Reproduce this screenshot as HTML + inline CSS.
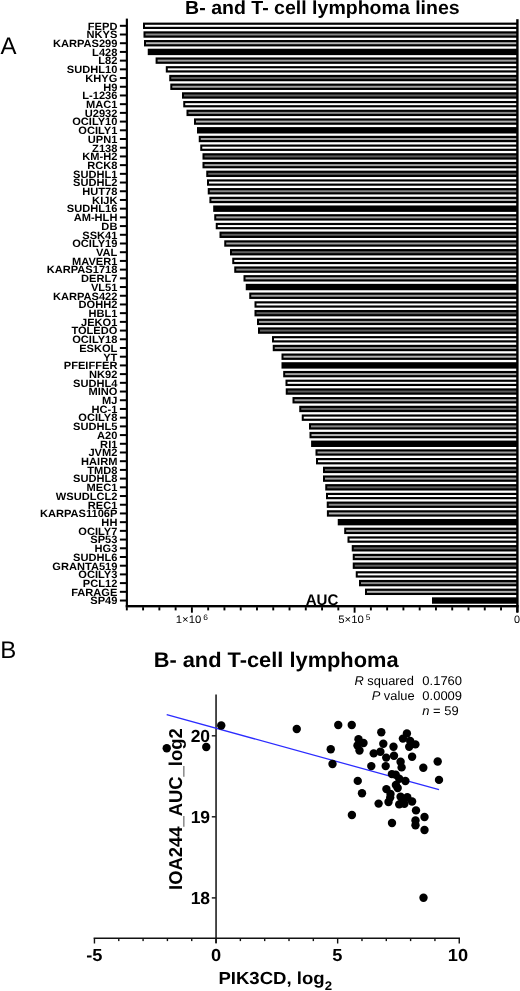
<!DOCTYPE html>
<html><head><meta charset="utf-8"><title>B- and T- cell lymphoma lines</title>
<style>
html,body{margin:0;padding:0;background:#fff}
body{width:520px;height:991px;overflow:hidden}
svg{display:block}
text{font-family:"Liberation Sans",Arial,Helvetica,sans-serif;fill:#000;text-rendering:geometricPrecision}
.b{font-weight:bold}
.lab{font-weight:bold;font-size:10.6px;text-anchor:end}
.i{font-style:italic}
</style></head><body>
<svg width="520" height="991" viewBox="0 0 520 991">
<rect x="0" y="0" width="520" height="991" fill="#fff"/>

<text x="0.6" y="54.4" font-size="24">A</text>
<text class="b" transform="translate(322.4,13.5) scale(1.034,1)" font-size="18.9" text-anchor="middle">B- and T- cell lymphoma lines</text>
<rect x="125.8" y="18.6" width="2.15" height="588.7" fill="#000"/>
<rect x="516.2" y="19.2" width="2.4" height="593.2" fill="#000"/>
<rect x="125.7" y="605" width="392.9" height="2.4" fill="#000"/>
<rect x="119.9" y="24.80" width="6.2" height="2.0" fill="#000"/>
<rect x="143" y="22.60" width="374.00" height="6.4" fill="#000"/>
<rect x="145" y="24.80" width="371.20" height="2" fill="rgb(255,255,255)"/>
<text class="lab" transform="translate(117.4,29.60) scale(1.047,1)">FEPD</text>
<rect x="119.9" y="33.51" width="6.2" height="2.0" fill="#000"/>
<rect x="143.5" y="31.31" width="373.50" height="6.4" fill="#000"/>
<rect x="145.5" y="33.51" width="370.70" height="2" fill="rgb(135,135,135)"/>
<text class="lab" transform="translate(117.4,38.31) scale(1.047,1)">NKYS</text>
<rect x="119.9" y="42.22" width="6.2" height="2.0" fill="#000"/>
<rect x="144" y="40.02" width="373.00" height="6.4" fill="#000"/>
<rect x="146" y="42.22" width="370.20" height="2" fill="rgb(180,180,180)"/>
<text class="lab" transform="translate(117.4,47.02) scale(1.047,1)">KARPAS299</text>
<rect x="119.9" y="50.92" width="6.2" height="2.0" fill="#000"/>
<rect x="147.75" y="48.72" width="369.25" height="6.4" fill="#000"/>
<text class="lab" transform="translate(117.4,55.72) scale(1.047,1)">L428</text>
<rect x="119.9" y="59.63" width="6.2" height="2.0" fill="#000"/>
<rect x="155.6" y="57.43" width="361.40" height="6.4" fill="#000"/>
<rect x="157.6" y="59.63" width="358.60" height="2" fill="rgb(160,160,160)"/>
<text class="lab" transform="translate(117.4,64.43) scale(1.047,1)">L82</text>
<rect x="119.9" y="68.34" width="6.2" height="2.0" fill="#000"/>
<rect x="165.8" y="66.14" width="351.20" height="6.4" fill="#000"/>
<rect x="167.8" y="68.34" width="348.40" height="2" fill="rgb(255,255,255)"/>
<text class="lab" transform="translate(117.4,73.14) scale(1.047,1)">SUDHL10</text>
<rect x="119.9" y="77.05" width="6.2" height="2.0" fill="#000"/>
<rect x="169.25" y="74.85" width="347.75" height="6.4" fill="#000"/>
<rect x="171.25" y="77.05" width="344.95" height="2" fill="rgb(92,92,92)"/>
<text class="lab" transform="translate(117.4,81.85) scale(1.047,1)">KHYG</text>
<rect x="119.9" y="85.76" width="6.2" height="2.0" fill="#000"/>
<rect x="170.3" y="83.56" width="346.70" height="6.4" fill="#000"/>
<rect x="172.3" y="85.76" width="343.90" height="2" fill="rgb(160,160,160)"/>
<text class="lab" transform="translate(117.4,90.56) scale(1.047,1)">H9</text>
<rect x="119.9" y="94.46" width="6.2" height="2.0" fill="#000"/>
<rect x="182" y="92.26" width="335.00" height="6.4" fill="#000"/>
<rect x="184" y="94.46" width="332.20" height="2" fill="rgb(95,95,95)"/>
<text class="lab" transform="translate(117.4,99.26) scale(1.047,1)">L-1236</text>
<rect x="119.9" y="103.17" width="6.2" height="2.0" fill="#000"/>
<rect x="183.25" y="100.97" width="333.75" height="6.4" fill="#000"/>
<rect x="185.25" y="103.17" width="330.95" height="2" fill="rgb(255,255,255)"/>
<text class="lab" transform="translate(117.4,107.97) scale(1.047,1)">MAC1</text>
<rect x="119.9" y="111.88" width="6.2" height="2.0" fill="#000"/>
<rect x="186.5" y="109.68" width="330.50" height="6.4" fill="#000"/>
<rect x="188.5" y="111.88" width="327.70" height="2" fill="rgb(135,135,135)"/>
<text class="lab" transform="translate(117.4,116.68) scale(1.047,1)">U2932</text>
<rect x="119.9" y="120.59" width="6.2" height="2.0" fill="#000"/>
<rect x="194" y="118.39" width="323.00" height="6.4" fill="#000"/>
<rect x="196" y="120.59" width="320.20" height="2" fill="rgb(180,180,180)"/>
<text class="lab" transform="translate(117.4,125.39) scale(1.047,1)">OCILY10</text>
<rect x="119.9" y="129.30" width="6.2" height="2.0" fill="#000"/>
<rect x="197" y="127.10" width="320.00" height="6.4" fill="#000"/>
<text class="lab" transform="translate(117.4,134.10) scale(1.047,1)">OCILY1</text>
<rect x="119.9" y="138.00" width="6.2" height="2.0" fill="#000"/>
<rect x="198.75" y="135.80" width="318.25" height="6.4" fill="#000"/>
<rect x="200.75" y="138.00" width="315.45" height="2" fill="rgb(160,160,160)"/>
<text class="lab" transform="translate(117.4,142.80) scale(1.047,1)">UPN1</text>
<rect x="119.9" y="146.71" width="6.2" height="2.0" fill="#000"/>
<rect x="200.25" y="144.51" width="316.75" height="6.4" fill="#000"/>
<rect x="202.25" y="146.71" width="313.95" height="2" fill="rgb(255,255,255)"/>
<text class="lab" transform="translate(117.4,151.51) scale(1.047,1)">Z138</text>
<rect x="119.9" y="155.42" width="6.2" height="2.0" fill="#000"/>
<rect x="202.5" y="153.22" width="314.50" height="6.4" fill="#000"/>
<rect x="204.5" y="155.42" width="311.70" height="2" fill="rgb(92,92,92)"/>
<text class="lab" transform="translate(117.4,160.22) scale(1.047,1)">KM-H2</text>
<rect x="119.9" y="164.13" width="6.2" height="2.0" fill="#000"/>
<rect x="202.5" y="161.93" width="314.50" height="6.4" fill="#000"/>
<rect x="204.5" y="164.13" width="311.70" height="2" fill="rgb(160,160,160)"/>
<text class="lab" transform="translate(117.4,168.93) scale(1.047,1)">RCK8</text>
<rect x="119.9" y="172.84" width="6.2" height="2.0" fill="#000"/>
<rect x="206.25" y="170.64" width="310.75" height="6.4" fill="#000"/>
<rect x="208.25" y="172.84" width="307.95" height="2" fill="rgb(95,95,95)"/>
<text class="lab" transform="translate(117.4,177.64) scale(1.047,1)">SUDHL1</text>
<rect x="119.9" y="181.54" width="6.2" height="2.0" fill="#000"/>
<rect x="207" y="179.34" width="310.00" height="6.4" fill="#000"/>
<rect x="209" y="181.54" width="307.20" height="2" fill="rgb(255,255,255)"/>
<text class="lab" transform="translate(117.4,186.34) scale(1.047,1)">SUDHL2</text>
<rect x="119.9" y="190.25" width="6.2" height="2.0" fill="#000"/>
<rect x="207.75" y="188.05" width="309.25" height="6.4" fill="#000"/>
<rect x="209.75" y="190.25" width="306.45" height="2" fill="rgb(135,135,135)"/>
<text class="lab" transform="translate(117.4,195.05) scale(1.047,1)">HUT78</text>
<rect x="119.9" y="198.96" width="6.2" height="2.0" fill="#000"/>
<rect x="209.4" y="196.76" width="307.60" height="6.4" fill="#000"/>
<rect x="211.4" y="198.96" width="304.80" height="2" fill="rgb(180,180,180)"/>
<text class="lab" transform="translate(117.4,203.76) scale(1.047,1)">KIJK</text>
<rect x="119.9" y="207.67" width="6.2" height="2.0" fill="#000"/>
<rect x="213.2" y="205.47" width="303.80" height="6.4" fill="#000"/>
<text class="lab" transform="translate(117.4,212.47) scale(1.047,1)">SUDHL16</text>
<rect x="119.9" y="216.38" width="6.2" height="2.0" fill="#000"/>
<rect x="214.25" y="214.18" width="302.75" height="6.4" fill="#000"/>
<rect x="216.25" y="216.38" width="299.95" height="2" fill="rgb(160,160,160)"/>
<text class="lab" transform="translate(117.4,221.18) scale(1.047,1)">AM-HLH</text>
<rect x="119.9" y="225.08" width="6.2" height="2.0" fill="#000"/>
<rect x="215.75" y="222.88" width="301.25" height="6.4" fill="#000"/>
<rect x="217.75" y="225.08" width="298.45" height="2" fill="rgb(255,255,255)"/>
<text class="lab" transform="translate(117.4,229.88) scale(1.047,1)">DB</text>
<rect x="119.9" y="233.79" width="6.2" height="2.0" fill="#000"/>
<rect x="219.5" y="231.59" width="297.50" height="6.4" fill="#000"/>
<rect x="221.5" y="233.79" width="294.70" height="2" fill="rgb(92,92,92)"/>
<text class="lab" transform="translate(117.4,238.59) scale(1.047,1)">SSK41</text>
<rect x="119.9" y="242.50" width="6.2" height="2.0" fill="#000"/>
<rect x="224.25" y="240.30" width="292.75" height="6.4" fill="#000"/>
<rect x="226.25" y="242.50" width="289.95" height="2" fill="rgb(160,160,160)"/>
<text class="lab" transform="translate(117.4,247.30) scale(1.047,1)">OCILY19</text>
<rect x="119.9" y="251.21" width="6.2" height="2.0" fill="#000"/>
<rect x="230" y="249.01" width="287.00" height="6.4" fill="#000"/>
<rect x="232" y="251.21" width="284.20" height="2" fill="rgb(95,95,95)"/>
<text class="lab" transform="translate(117.4,256.01) scale(1.047,1)">VAL</text>
<rect x="119.9" y="259.92" width="6.2" height="2.0" fill="#000"/>
<rect x="232.25" y="257.72" width="284.75" height="6.4" fill="#000"/>
<rect x="234.25" y="259.92" width="281.95" height="2" fill="rgb(255,255,255)"/>
<text class="lab" transform="translate(117.4,264.72) scale(1.047,1)">MAVER1</text>
<rect x="119.9" y="268.62" width="6.2" height="2.0" fill="#000"/>
<rect x="234.25" y="266.42" width="282.75" height="6.4" fill="#000"/>
<rect x="236.25" y="268.62" width="279.95" height="2" fill="rgb(135,135,135)"/>
<text class="lab" transform="translate(117.4,273.42) scale(1.047,1)">KARPAS1718</text>
<rect x="119.9" y="277.33" width="6.2" height="2.0" fill="#000"/>
<rect x="243.5" y="275.13" width="273.50" height="6.4" fill="#000"/>
<rect x="245.5" y="277.33" width="270.70" height="2" fill="rgb(180,180,180)"/>
<text class="lab" transform="translate(117.4,282.13) scale(1.047,1)">DERL7</text>
<rect x="119.9" y="286.04" width="6.2" height="2.0" fill="#000"/>
<rect x="245.75" y="283.84" width="271.25" height="6.4" fill="#000"/>
<text class="lab" transform="translate(117.4,290.84) scale(1.047,1)">VL51</text>
<rect x="119.9" y="294.75" width="6.2" height="2.0" fill="#000"/>
<rect x="249.25" y="292.55" width="267.75" height="6.4" fill="#000"/>
<rect x="251.25" y="294.75" width="264.95" height="2" fill="rgb(160,160,160)"/>
<text class="lab" transform="translate(117.4,299.55) scale(1.047,1)">KARPAS422</text>
<rect x="119.9" y="303.46" width="6.2" height="2.0" fill="#000"/>
<rect x="254.5" y="301.26" width="262.50" height="6.4" fill="#000"/>
<rect x="256.5" y="303.46" width="259.70" height="2" fill="rgb(255,255,255)"/>
<text class="lab" transform="translate(117.4,308.26) scale(1.047,1)">DOHH2</text>
<rect x="119.9" y="312.16" width="6.2" height="2.0" fill="#000"/>
<rect x="254.5" y="309.96" width="262.50" height="6.4" fill="#000"/>
<rect x="256.5" y="312.16" width="259.70" height="2" fill="rgb(92,92,92)"/>
<text class="lab" transform="translate(117.4,316.96) scale(1.047,1)">HBL1</text>
<rect x="119.9" y="320.87" width="6.2" height="2.0" fill="#000"/>
<rect x="257" y="318.67" width="260.00" height="6.4" fill="#000"/>
<rect x="259" y="320.87" width="257.20" height="2" fill="rgb(160,160,160)"/>
<text class="lab" transform="translate(117.4,325.67) scale(1.047,1)">JEKO1</text>
<rect x="119.9" y="329.58" width="6.2" height="2.0" fill="#000"/>
<rect x="258" y="327.38" width="259.00" height="6.4" fill="#000"/>
<rect x="260" y="329.58" width="256.20" height="2" fill="rgb(95,95,95)"/>
<text class="lab" transform="translate(117.4,334.38) scale(1.047,1)">TOLEDO</text>
<rect x="119.9" y="338.29" width="6.2" height="2.0" fill="#000"/>
<rect x="272" y="336.09" width="245.00" height="6.4" fill="#000"/>
<rect x="274" y="338.29" width="242.20" height="2" fill="rgb(255,255,255)"/>
<text class="lab" transform="translate(117.4,343.09) scale(1.047,1)">OCILY18</text>
<rect x="119.9" y="347.00" width="6.2" height="2.0" fill="#000"/>
<rect x="272.75" y="344.80" width="244.25" height="6.4" fill="#000"/>
<rect x="274.75" y="347.00" width="241.45" height="2" fill="rgb(135,135,135)"/>
<text class="lab" transform="translate(117.4,351.80) scale(1.047,1)">ESKOL</text>
<rect x="119.9" y="355.70" width="6.2" height="2.0" fill="#000"/>
<rect x="281.5" y="353.50" width="235.50" height="6.4" fill="#000"/>
<rect x="283.5" y="355.70" width="232.70" height="2" fill="rgb(180,180,180)"/>
<text class="lab" transform="translate(117.4,360.50) scale(1.047,1)">YT</text>
<rect x="119.9" y="364.41" width="6.2" height="2.0" fill="#000"/>
<rect x="281.5" y="362.21" width="235.50" height="6.4" fill="#000"/>
<text class="lab" transform="translate(117.4,369.21) scale(1.047,1)">PFEIFFER</text>
<rect x="119.9" y="373.12" width="6.2" height="2.0" fill="#000"/>
<rect x="283.2" y="370.92" width="233.80" height="6.4" fill="#000"/>
<rect x="285.2" y="373.12" width="231.00" height="2" fill="rgb(160,160,160)"/>
<text class="lab" transform="translate(117.4,377.92) scale(1.047,1)">NK92</text>
<rect x="119.9" y="381.83" width="6.2" height="2.0" fill="#000"/>
<rect x="285.5" y="379.63" width="231.50" height="6.4" fill="#000"/>
<rect x="287.5" y="381.83" width="228.70" height="2" fill="rgb(255,255,255)"/>
<text class="lab" transform="translate(117.4,386.63) scale(1.047,1)">SUDHL4</text>
<rect x="119.9" y="390.54" width="6.2" height="2.0" fill="#000"/>
<rect x="285.75" y="388.34" width="231.25" height="6.4" fill="#000"/>
<rect x="287.75" y="390.54" width="228.45" height="2" fill="rgb(92,92,92)"/>
<text class="lab" transform="translate(117.4,395.34) scale(1.047,1)">MINO</text>
<rect x="119.9" y="399.24" width="6.2" height="2.0" fill="#000"/>
<rect x="292.5" y="397.04" width="224.50" height="6.4" fill="#000"/>
<rect x="294.5" y="399.24" width="221.70" height="2" fill="rgb(160,160,160)"/>
<text class="lab" transform="translate(117.4,404.04) scale(1.047,1)">MJ</text>
<rect x="119.9" y="407.95" width="6.2" height="2.0" fill="#000"/>
<rect x="299.25" y="405.75" width="217.75" height="6.4" fill="#000"/>
<rect x="301.25" y="407.95" width="214.95" height="2" fill="rgb(95,95,95)"/>
<text class="lab" transform="translate(117.4,412.75) scale(1.047,1)">HC-1</text>
<rect x="119.9" y="416.66" width="6.2" height="2.0" fill="#000"/>
<rect x="301.75" y="414.46" width="215.25" height="6.4" fill="#000"/>
<rect x="303.75" y="416.66" width="212.45" height="2" fill="rgb(255,255,255)"/>
<text class="lab" transform="translate(117.4,421.46) scale(1.047,1)">OCILY8</text>
<rect x="119.9" y="425.37" width="6.2" height="2.0" fill="#000"/>
<rect x="309" y="423.17" width="208.00" height="6.4" fill="#000"/>
<rect x="311" y="425.37" width="205.20" height="2" fill="rgb(135,135,135)"/>
<text class="lab" transform="translate(117.4,430.17) scale(1.047,1)">SUDHL5</text>
<rect x="119.9" y="434.08" width="6.2" height="2.0" fill="#000"/>
<rect x="309.5" y="431.88" width="207.50" height="6.4" fill="#000"/>
<rect x="311.5" y="434.08" width="204.70" height="2" fill="rgb(180,180,180)"/>
<text class="lab" transform="translate(117.4,438.88) scale(1.047,1)">A20</text>
<rect x="119.9" y="442.78" width="6.2" height="2.0" fill="#000"/>
<rect x="311.1" y="440.58" width="205.90" height="6.4" fill="#000"/>
<text class="lab" transform="translate(117.4,447.58) scale(1.047,1)">RI1</text>
<rect x="119.9" y="451.49" width="6.2" height="2.0" fill="#000"/>
<rect x="315.5" y="449.29" width="201.50" height="6.4" fill="#000"/>
<rect x="317.5" y="451.49" width="198.70" height="2" fill="rgb(160,160,160)"/>
<text class="lab" transform="translate(117.4,456.29) scale(1.047,1)">JVM2</text>
<rect x="119.9" y="460.20" width="6.2" height="2.0" fill="#000"/>
<rect x="316" y="458.00" width="201.00" height="6.4" fill="#000"/>
<rect x="318" y="460.20" width="198.20" height="2" fill="rgb(255,255,255)"/>
<text class="lab" transform="translate(117.4,465.00) scale(1.047,1)">HAIRM</text>
<rect x="119.9" y="468.91" width="6.2" height="2.0" fill="#000"/>
<rect x="323" y="466.71" width="194.00" height="6.4" fill="#000"/>
<rect x="325" y="468.91" width="191.20" height="2" fill="rgb(92,92,92)"/>
<text class="lab" transform="translate(117.4,473.71) scale(1.047,1)">TMD8</text>
<rect x="119.9" y="477.62" width="6.2" height="2.0" fill="#000"/>
<rect x="323" y="475.42" width="194.00" height="6.4" fill="#000"/>
<rect x="325" y="477.62" width="191.20" height="2" fill="rgb(160,160,160)"/>
<text class="lab" transform="translate(117.4,482.42) scale(1.047,1)">SUDHL8</text>
<rect x="119.9" y="486.32" width="6.2" height="2.0" fill="#000"/>
<rect x="325.25" y="484.12" width="191.75" height="6.4" fill="#000"/>
<rect x="327.25" y="486.32" width="188.95" height="2" fill="rgb(95,95,95)"/>
<text class="lab" transform="translate(117.4,491.12) scale(1.047,1)">MEC1</text>
<rect x="119.9" y="495.03" width="6.2" height="2.0" fill="#000"/>
<rect x="326" y="492.83" width="191.00" height="6.4" fill="#000"/>
<rect x="328" y="495.03" width="188.20" height="2" fill="rgb(255,255,255)"/>
<text class="lab" transform="translate(117.4,499.83) scale(1.047,1)">WSUDLCL2</text>
<rect x="119.9" y="503.74" width="6.2" height="2.0" fill="#000"/>
<rect x="326.75" y="501.54" width="190.25" height="6.4" fill="#000"/>
<rect x="328.75" y="503.74" width="187.45" height="2" fill="rgb(135,135,135)"/>
<text class="lab" transform="translate(117.4,508.54) scale(1.047,1)">REC1</text>
<rect x="119.9" y="512.45" width="6.2" height="2.0" fill="#000"/>
<rect x="326.9" y="510.25" width="190.10" height="6.4" fill="#000"/>
<rect x="328.9" y="512.45" width="187.30" height="2" fill="rgb(180,180,180)"/>
<text class="lab" transform="translate(117.4,517.25) scale(1.047,1)">KARPAS1106P</text>
<rect x="119.9" y="521.16" width="6.2" height="2.0" fill="#000"/>
<rect x="337.75" y="518.96" width="179.25" height="6.4" fill="#000"/>
<text class="lab" transform="translate(117.4,525.96) scale(1.047,1)">HH</text>
<rect x="119.9" y="529.86" width="6.2" height="2.0" fill="#000"/>
<rect x="344.2" y="527.66" width="172.80" height="6.4" fill="#000"/>
<rect x="346.2" y="529.86" width="170.00" height="2" fill="rgb(160,160,160)"/>
<text class="lab" transform="translate(117.4,534.66) scale(1.047,1)">OCILY7</text>
<rect x="119.9" y="538.57" width="6.2" height="2.0" fill="#000"/>
<rect x="347.5" y="536.37" width="169.50" height="6.4" fill="#000"/>
<rect x="349.5" y="538.57" width="166.70" height="2" fill="rgb(255,255,255)"/>
<text class="lab" transform="translate(117.4,543.37) scale(1.047,1)">SP53</text>
<rect x="119.9" y="547.28" width="6.2" height="2.0" fill="#000"/>
<rect x="351.75" y="545.08" width="165.25" height="6.4" fill="#000"/>
<rect x="353.75" y="547.28" width="162.45" height="2" fill="rgb(92,92,92)"/>
<text class="lab" transform="translate(117.4,552.08) scale(1.047,1)">HG3</text>
<rect x="119.9" y="555.99" width="6.2" height="2.0" fill="#000"/>
<rect x="352.75" y="553.79" width="164.25" height="6.4" fill="#000"/>
<rect x="354.75" y="555.99" width="161.45" height="2" fill="rgb(160,160,160)"/>
<text class="lab" transform="translate(117.4,560.79) scale(1.047,1)">SUDHL6</text>
<rect x="119.9" y="564.70" width="6.2" height="2.0" fill="#000"/>
<rect x="352.75" y="562.50" width="164.25" height="6.4" fill="#000"/>
<rect x="354.75" y="564.70" width="161.45" height="2" fill="rgb(95,95,95)"/>
<text class="lab" transform="translate(117.4,569.50) scale(1.047,1)">GRANTA519</text>
<rect x="119.9" y="573.40" width="6.2" height="2.0" fill="#000"/>
<rect x="355.75" y="571.20" width="161.25" height="6.4" fill="#000"/>
<rect x="357.75" y="573.40" width="158.45" height="2" fill="rgb(255,255,255)"/>
<text class="lab" transform="translate(117.4,578.20) scale(1.047,1)">OCILY3</text>
<rect x="119.9" y="582.11" width="6.2" height="2.0" fill="#000"/>
<rect x="359" y="579.91" width="158.00" height="6.4" fill="#000"/>
<rect x="361" y="582.11" width="155.20" height="2" fill="rgb(135,135,135)"/>
<text class="lab" transform="translate(117.4,586.91) scale(1.047,1)">PCL12</text>
<rect x="119.9" y="590.82" width="6.2" height="2.0" fill="#000"/>
<rect x="365" y="588.62" width="152.00" height="6.4" fill="#000"/>
<rect x="367" y="590.82" width="149.20" height="2" fill="rgb(180,180,180)"/>
<text class="lab" transform="translate(117.4,595.62) scale(1.047,1)">FARAGE</text>
<rect x="119.9" y="599.53" width="6.2" height="2.0" fill="#000"/>
<rect x="432" y="597.33" width="85.00" height="6.4" fill="#000"/>
<text class="lab" transform="translate(117.4,604.33) scale(1.047,1)">SP49</text>
<rect x="516.35" y="607.2" width="1.9" height="5.5" fill="#000"/>
<rect x="500.08" y="607.2" width="1.9" height="3.2" fill="#000"/>
<rect x="483.81" y="607.2" width="1.9" height="3.2" fill="#000"/>
<rect x="467.54" y="607.2" width="1.9" height="3.2" fill="#000"/>
<rect x="451.27" y="607.2" width="1.9" height="3.2" fill="#000"/>
<rect x="435.00" y="607.2" width="1.9" height="3.2" fill="#000"/>
<rect x="418.73" y="607.2" width="1.9" height="3.2" fill="#000"/>
<rect x="402.46" y="607.2" width="1.9" height="3.2" fill="#000"/>
<rect x="386.19" y="607.2" width="1.9" height="3.2" fill="#000"/>
<rect x="369.92" y="607.2" width="1.9" height="3.2" fill="#000"/>
<rect x="353.65" y="607.2" width="1.9" height="5.5" fill="#000"/>
<rect x="337.38" y="607.2" width="1.9" height="3.2" fill="#000"/>
<rect x="321.11" y="607.2" width="1.9" height="3.2" fill="#000"/>
<rect x="304.84" y="607.2" width="1.9" height="3.2" fill="#000"/>
<rect x="288.57" y="607.2" width="1.9" height="3.2" fill="#000"/>
<rect x="272.30" y="607.2" width="1.9" height="3.2" fill="#000"/>
<rect x="256.03" y="607.2" width="1.9" height="3.2" fill="#000"/>
<rect x="239.76" y="607.2" width="1.9" height="3.2" fill="#000"/>
<rect x="223.49" y="607.2" width="1.9" height="3.2" fill="#000"/>
<rect x="207.22" y="607.2" width="1.9" height="3.2" fill="#000"/>
<rect x="190.95" y="607.2" width="1.9" height="5.5" fill="#000"/>
<rect x="174.68" y="607.2" width="1.9" height="3.2" fill="#000"/>
<rect x="158.41" y="607.2" width="1.9" height="3.2" fill="#000"/>
<rect x="142.14" y="607.2" width="1.9" height="3.2" fill="#000"/>
<rect x="125.87" y="607.2" width="1.9" height="3.2" fill="#000"/>
<text class="b" transform="translate(322,604.8) scale(0.985,1)" font-size="15.3" text-anchor="middle">AUC</text>
<text transform="translate(175.7,623.2) scale(1.05,1)" font-size="10.8">1×10<tspan dx="1.9" dy="-2.8" font-size="8">6</tspan></text>
<text transform="translate(338.2,623.2) scale(1.05,1)" font-size="10.8">5×10<tspan dx="1.9" dy="-2.8" font-size="8">5</tspan></text>
<text x="517" y="623.2" font-size="10.8" text-anchor="middle">0</text>
<text x="0.2" y="658.2" font-size="24">B</text>
<text class="b" transform="translate(276.1,666.9) scale(1.03,1)" font-size="21.2" text-anchor="middle">B- and T-cell lymphoma</text>
<text transform="translate(413.9,684.5) scale(1.015,1)" font-size="12.7" text-anchor="end"><tspan class="i">R</tspan> squared</text>
<text transform="translate(422.3,684.5) scale(1.025,1)" font-size="12.7">0.1760</text>
<text transform="translate(414.6,700) scale(1.015,1)" font-size="12.7" text-anchor="end"><tspan class="i">P</tspan> value</text>
<text transform="translate(422.3,700) scale(1.025,1)" font-size="12.7">0.0009</text>
<text transform="translate(422.3,715.2) scale(1.02,1)" font-size="12.7"><tspan class="i">n</tspan> = 59</text>
<rect x="215.3" y="694.5" width="1.5" height="248.5" fill="#111"/>
<rect x="93.6" y="937.5" width="366.4" height="1.5" fill="#111"/>
<rect x="93.75" y="938.5" width="1.4" height="5" fill="#111"/>
<rect x="118.07" y="938.5" width="1.4" height="2.6" fill="#111"/>
<rect x="142.39" y="938.5" width="1.4" height="2.6" fill="#111"/>
<rect x="166.71" y="938.5" width="1.4" height="2.6" fill="#111"/>
<rect x="191.03" y="938.5" width="1.4" height="2.6" fill="#111"/>
<rect x="215.35" y="938.5" width="1.4" height="5" fill="#111"/>
<rect x="239.67" y="938.5" width="1.4" height="2.6" fill="#111"/>
<rect x="263.99" y="938.5" width="1.4" height="2.6" fill="#111"/>
<rect x="288.31" y="938.5" width="1.4" height="2.6" fill="#111"/>
<rect x="312.63" y="938.5" width="1.4" height="2.6" fill="#111"/>
<rect x="336.95" y="938.5" width="1.4" height="5" fill="#111"/>
<rect x="361.27" y="938.5" width="1.4" height="2.6" fill="#111"/>
<rect x="385.59" y="938.5" width="1.4" height="2.6" fill="#111"/>
<rect x="409.91" y="938.5" width="1.4" height="2.6" fill="#111"/>
<rect x="434.23" y="938.5" width="1.4" height="2.6" fill="#111"/>
<rect x="458.55" y="938.5" width="1.4" height="5" fill="#111"/>
<rect x="211.8" y="735.10" width="4" height="1.4" fill="#111"/>
<text class="b" x="210.1" y="742.10" font-size="17.5" text-anchor="end">20</text>
<rect x="211.8" y="816.10" width="4" height="1.4" fill="#111"/>
<text class="b" x="210.1" y="823.10" font-size="17.5" text-anchor="end">19</text>
<rect x="211.8" y="897.20" width="4" height="1.4" fill="#111"/>
<text class="b" x="210.1" y="904.20" font-size="17.5" text-anchor="end">18</text>
<text class="b" transform="translate(94.3,960.7) scale(1.05,1)" font-size="17.4" text-anchor="middle">-5</text>
<text class="b" transform="translate(216,960.7) scale(1.05,1)" font-size="17.4" text-anchor="middle">0</text>
<text class="b" transform="translate(337.3,960.7) scale(1.05,1)" font-size="17.4" text-anchor="middle">5</text>
<text class="b" transform="translate(458,960.7) scale(1.05,1)" font-size="17.4" text-anchor="middle">10</text>
<text class="b" transform="translate(218.4,983.8) scale(1.068,1)" font-size="17.4">PIK3CD, log<tspan dy="6" font-size="12.4">2</tspan></text>
<text class="b" transform="translate(181.7,809.15) rotate(-90) scale(0.99,1)" font-size="18.6" text-anchor="middle">IOA244_AUC_log2</text>
<line x1="166.7" y1="714.7" x2="439" y2="789.6" stroke="#2b2bff" stroke-width="1.25"/>
<circle cx="221.25" cy="725.5" r="4.2" fill="#000"/>
<circle cx="206.25" cy="747" r="4.2" fill="#000"/>
<circle cx="166.75" cy="748.25" r="4.2" fill="#000"/>
<circle cx="296.75" cy="729" r="4.2" fill="#000"/>
<circle cx="338.25" cy="725" r="4.2" fill="#000"/>
<circle cx="351.75" cy="725" r="4.2" fill="#000"/>
<circle cx="330.75" cy="749.25" r="4.2" fill="#000"/>
<circle cx="332.5" cy="764" r="4.2" fill="#000"/>
<circle cx="358.5" cy="739.25" r="4.2" fill="#000"/>
<circle cx="363.5" cy="743" r="4.2" fill="#000"/>
<circle cx="357.5" cy="745.5" r="4.2" fill="#000"/>
<circle cx="359.5" cy="750.5" r="4.2" fill="#000"/>
<circle cx="381.3" cy="732.2" r="4.2" fill="#000"/>
<circle cx="383.3" cy="743.8" r="4.2" fill="#000"/>
<circle cx="393.5" cy="746.7" r="4.2" fill="#000"/>
<circle cx="373.7" cy="753.4" r="4.2" fill="#000"/>
<circle cx="380.4" cy="751.7" r="4.2" fill="#000"/>
<circle cx="386.2" cy="757.6" r="4.2" fill="#000"/>
<circle cx="394" cy="755.7" r="4.2" fill="#000"/>
<circle cx="371.3" cy="766.1" r="4.2" fill="#000"/>
<circle cx="385.7" cy="766.1" r="4.2" fill="#000"/>
<circle cx="400.6" cy="761.8" r="4.2" fill="#000"/>
<circle cx="401.6" cy="767.4" r="4.2" fill="#000"/>
<circle cx="406.9" cy="733.5" r="4.2" fill="#000"/>
<circle cx="402.9" cy="738.6" r="4.2" fill="#000"/>
<circle cx="410.2" cy="741" r="4.2" fill="#000"/>
<circle cx="415.4" cy="744.4" r="4.2" fill="#000"/>
<circle cx="409.2" cy="746.7" r="4.2" fill="#000"/>
<circle cx="412.1" cy="756.7" r="4.2" fill="#000"/>
<circle cx="423.3" cy="767.7" r="4.2" fill="#000"/>
<circle cx="437.7" cy="761.5" r="4.2" fill="#000"/>
<circle cx="439" cy="779.9" r="4.2" fill="#000"/>
<circle cx="391.9" cy="774.1" r="4.2" fill="#000"/>
<circle cx="395.7" cy="774.8" r="4.2" fill="#000"/>
<circle cx="399.2" cy="778.8" r="4.2" fill="#000"/>
<circle cx="405.4" cy="781" r="4.2" fill="#000"/>
<circle cx="395.9" cy="785" r="4.2" fill="#000"/>
<circle cx="397.7" cy="788" r="4.2" fill="#000"/>
<circle cx="386.4" cy="789.1" r="4.2" fill="#000"/>
<circle cx="390.5" cy="794" r="4.2" fill="#000"/>
<circle cx="400.6" cy="796.7" r="4.2" fill="#000"/>
<circle cx="407.3" cy="797.3" r="4.2" fill="#000"/>
<circle cx="402.5" cy="799.6" r="4.2" fill="#000"/>
<circle cx="412.1" cy="801.5" r="4.2" fill="#000"/>
<circle cx="388.5" cy="802" r="4.2" fill="#000"/>
<circle cx="378.6" cy="803.6" r="4.2" fill="#000"/>
<circle cx="399.2" cy="804.4" r="4.2" fill="#000"/>
<circle cx="404.4" cy="803.8" r="4.2" fill="#000"/>
<circle cx="416" cy="810.4" r="4.2" fill="#000"/>
<circle cx="424.5" cy="817" r="4.2" fill="#000"/>
<circle cx="415.5" cy="820.4" r="4.2" fill="#000"/>
<circle cx="415.5" cy="825.3" r="4.2" fill="#000"/>
<circle cx="424.5" cy="830" r="4.2" fill="#000"/>
<circle cx="392" cy="823" r="4.2" fill="#000"/>
<circle cx="351.9" cy="815" r="4.2" fill="#000"/>
<circle cx="357.75" cy="780.9" r="4.2" fill="#000"/>
<circle cx="362" cy="793.3" r="4.2" fill="#000"/>
<circle cx="423.5" cy="897.7" r="4.2" fill="#000"/>
<circle cx="390.2" cy="797.6" r="4.2" fill="#000"/>
</svg></body></html>
